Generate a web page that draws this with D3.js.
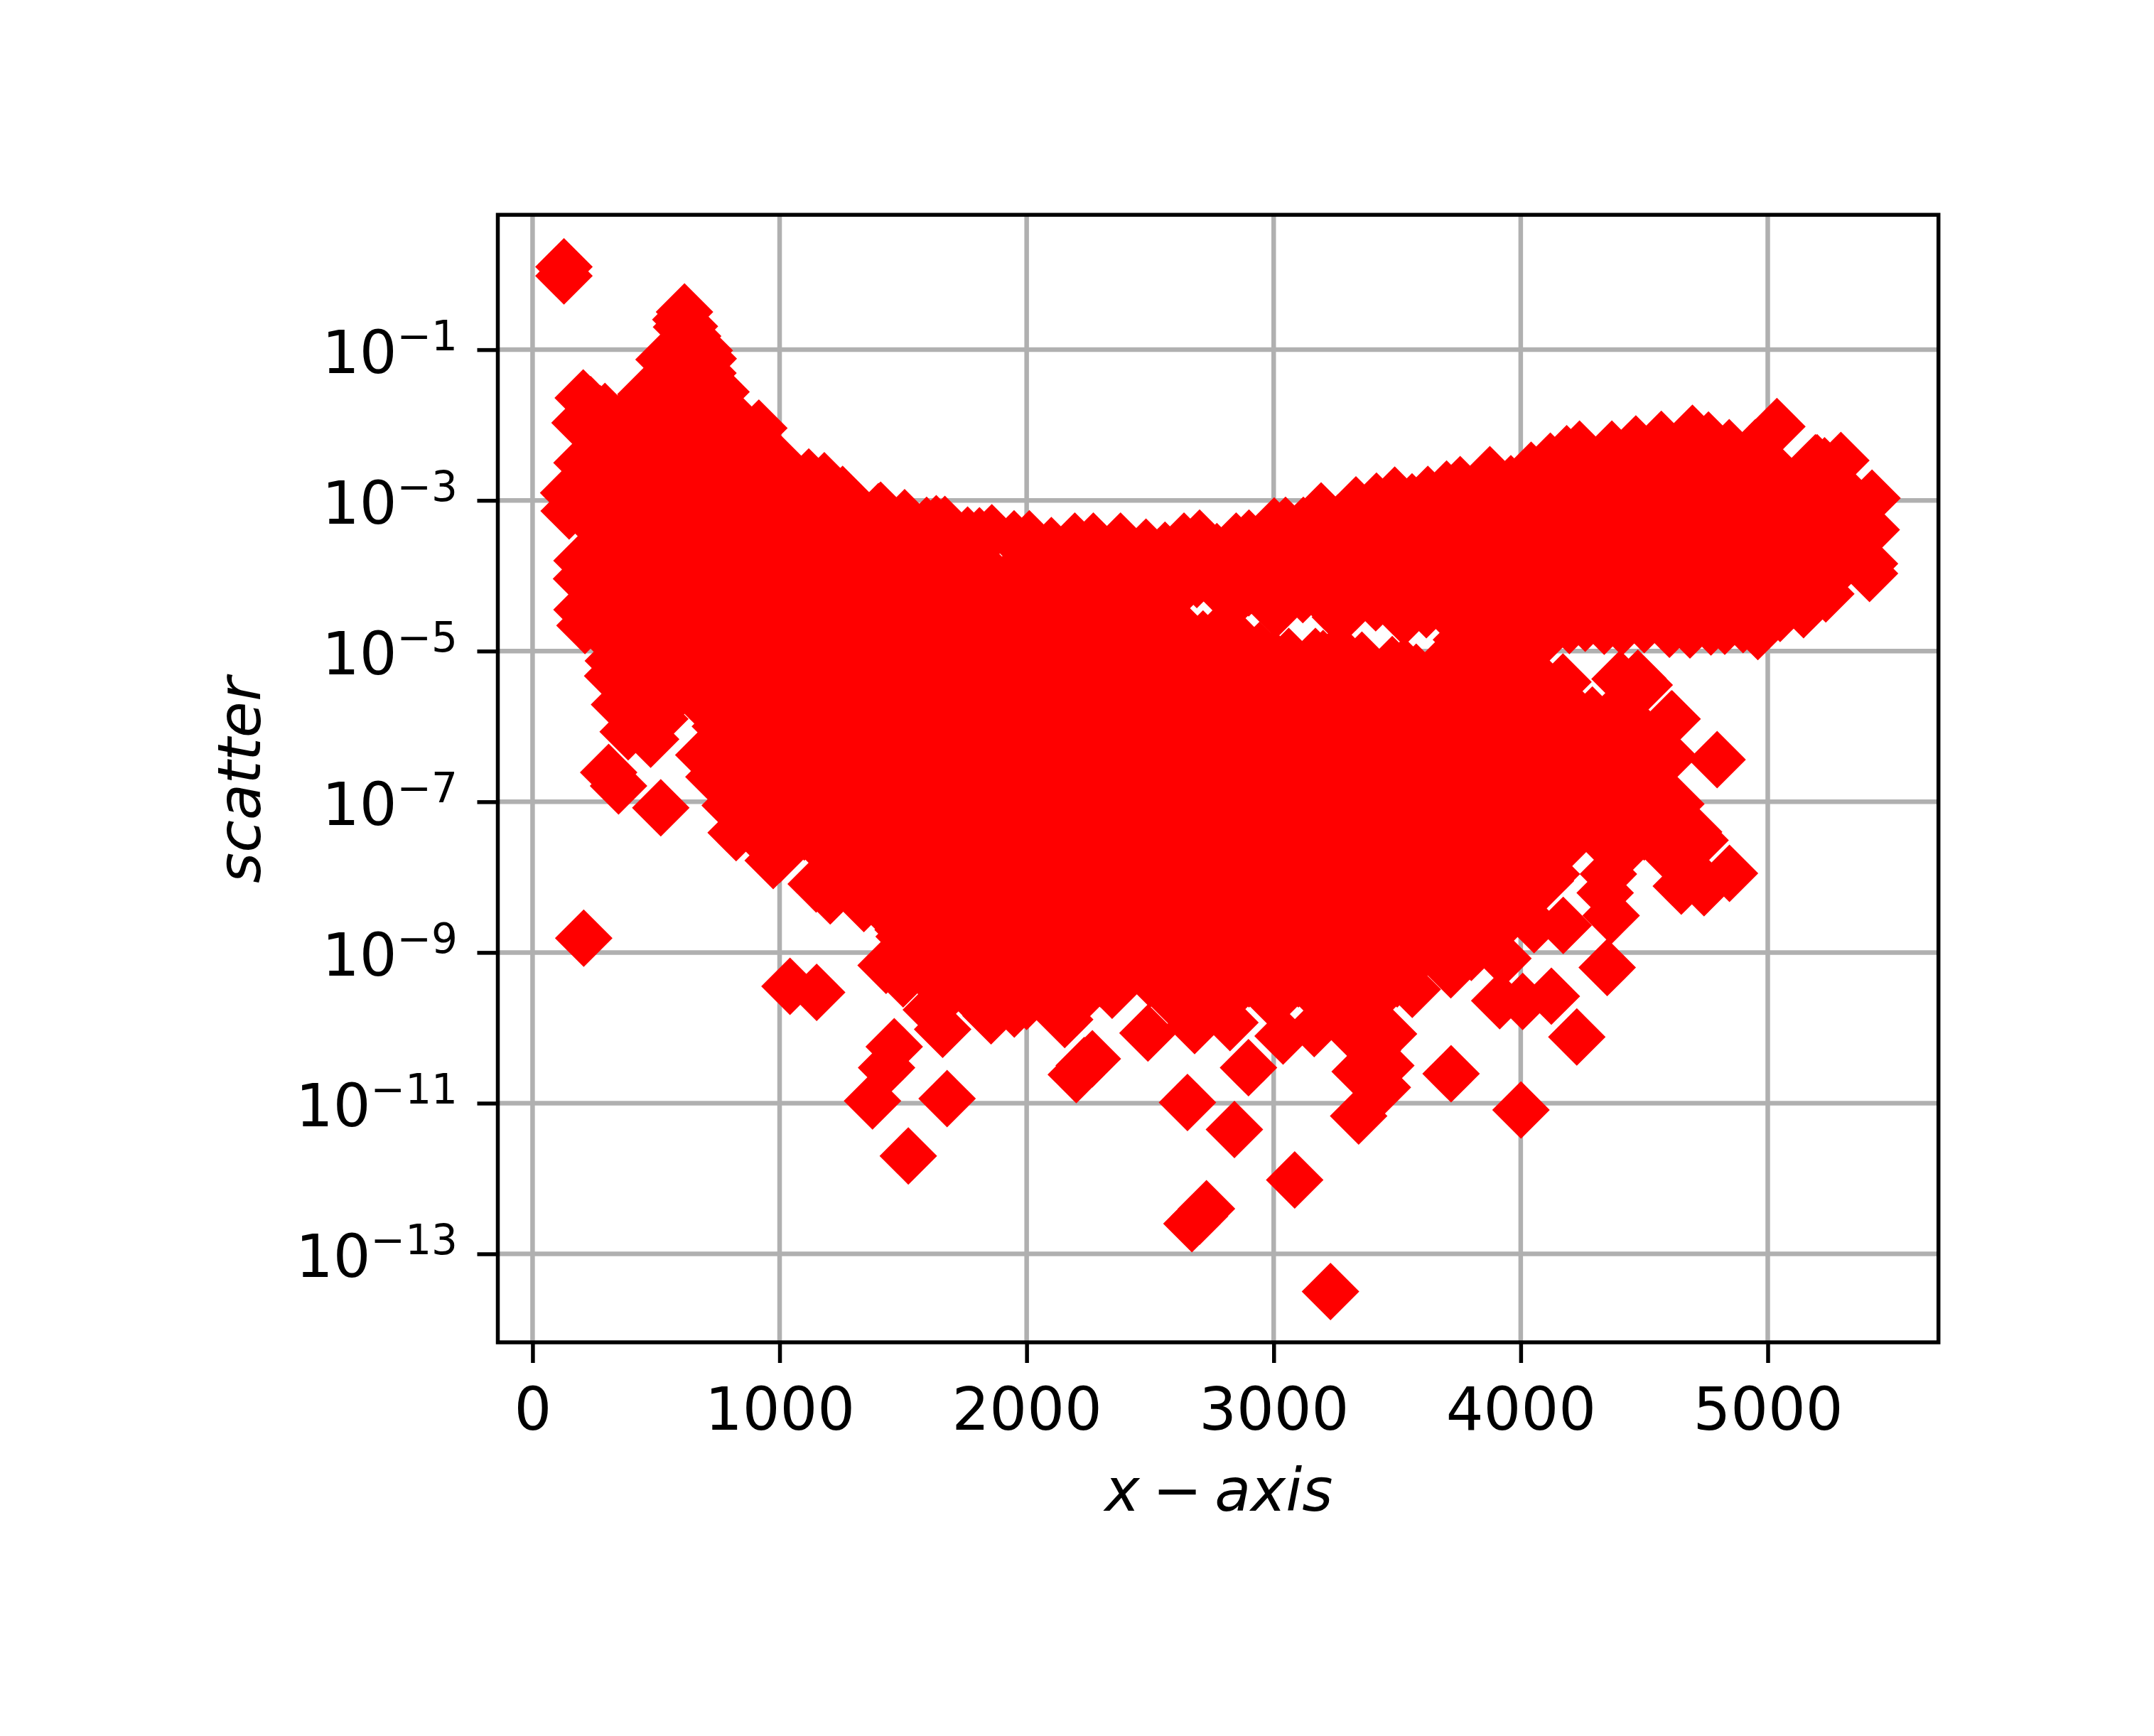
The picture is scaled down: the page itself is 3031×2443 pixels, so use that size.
<!DOCTYPE html>
<html><head><meta charset="utf-8">
<script src="https://cdn.jsdelivr.net/npm/d3@7/dist/d3.min.js"></script>
<style>html,body{margin:0;padding:0;background:#fff}svg{display:block}text{font-family:"DejaVu Sans";fill:#000}</style>
</head><body><svg id="chart" width="3031" height="2443"></svg>
<script>
const xTicks = [0,1000,2000,3000,4000,5000];
const yTickExponents = [-1,-3,-5,-7,-9,-11,-13];
const xLabelText = ["x","−","axis"];
const yLabelText = "scatter";

// each pair: [x value, power of ten of the scatter value]
const outliers = [[127,0.10],[127,-0.02],[207,-8.81],[519,-7.08],[1042,-9.45],[1150,-9.53],[1464,-10.25],[1433,-10.53],[1376,-10.97],[1678,-10.94],[1521,-11.70],[2266,-10.41],[2233,-10.5],[2201,-10.62],[2651,-10.99],[2841,-11.35],[2669,-12.60],[2700,-12.5],[2728,-12.40],[3085,-12.02],[3230,-13.50],[3718,-10.61],[4001,-11.09],[4227,-10.12],[4795,-6.44]];
const upperEdge = [[615,-0.50],[603,-0.70],[532,-1.13],[525,-1.41],[459,-1.59],[445,-1.80],[480,-1.90],[635,-0.69],[648,-0.82],[695,-1.01],[711,-1.12],[710,-1.31],[763,-1.56],[916,-2.04],[902,-2.23],[205,-1.64],[235,-1.73],[274,-1.85],[293,-1.82],[369,-1.91],[192,-1.97],[146,-2.90],[148,-3.14],[198,-4.04],[212,-4.66],[255,-4.38],[327,-5.13],[324,-5.33],[1118,-2.69],[1181,-2.74],[1255,-2.92],[1409,-3.13],[1506,-3.23],[1595,-3.33],[1634,-3.31],[1669,-3.32],[1761,-3.46],[1809,-3.47],[1859,-3.43],[1949,-3.51],[2011,-3.51],[2100,-3.60],[2195,-3.54],[2270,-3.54],[2380,-3.54],[2483,-3.62],[2560,-3.66],[2637,-3.54],[2694,-3.57],[2770,-3.68],[2848,-3.54],[2904,-3.53],[3002,-3.34],[3048,-3.33],[3120,-3.33],[3192,-3.14],[3260,-3.30],[3333,-3.06],[3416,-3.01],[3490,-2.93],[3560,-3.02],[3624,-2.92],[3690,-2.95],[3755,-2.79],[3875,-2.66],[3960,-2.78],[4042,-2.60],[4120,-2.48],[4186,-2.38],[4238,-2.32],[4369,-2.32],[4466,-2.25],[4569,-2.19],[4695,-2.11],[4760,-2.20],[4844,-2.30],[4950,-2.30],[5037,-2.02],[5193,-2.50],[5230,-2.54],[5296,-2.47],[5422,-2.97],[5419,-3.39],[5412,-3.84],[5412,-3.97]];
const bandLowerEdge = [[2600,-4.25],[2630,-4.05],[2689,-4.05],[2850,-4.30],[2899,-4.16],[2960,-4.10],[3118,-4.25],[3330,-4.35],[3413,-4.36],[3550,-4.20],[3618,-4.45],[4107,-4.61],[4197,-4.66],[4261,-4.63],[4338,-4.67],[4410,-4.68],[4500,-4.65],[4602,-4.71],[4685,-4.72],[4770,-4.68],[4826,-4.67],[4900,-4.65],[4960,-4.74],[5050,-4.50],[5145,-4.45],[5235,-4.24]];
const innerCloudTop = [[2545,-4.45],[2660,-4.81],[2714,-4.84],[2795,-4.70],[2805,-4.25],[2881,-4.93],[2943,-4.99],[3010,-4.45],[3061,-5.07],[3169,-5.07],[3265,-5.00],[3270,-4.55],[3357,-5.12],[3420,-5.40],[3480,-5.18],[3528,-4.55],[3528,-5.20],[3577,-5.28],[3657,-5.25],[3710,-4.50],[3760,-4.85],[4171,-5.41],[4290,-5.85],[4402,-5.37],[4474,-5.36],[4613,-5.90]];
const lowerLeftEdge = [[352,-5.71],[387,-6.07],[478,-6.17],[308,-6.61],[348,-6.79],[515,-5.90],[679,-5.66],[760,-6.00],[693,-6.38],[734,-6.67],[824,-7.41],[974,-7.78],[1148,-8.09],[1205,-8.25],[1341,-8.35],[1504,-8.79],[1431,-9.17],[1500,-9.35],[1600,-9.30],[1614,-9.76],[1660,-10.02],[1856,-9.84],[1950,-9.75],[2154,-9.89],[2346,-9.50],[2491,-10.07]];
const lowerRightEdge = [[2680,-9.97],[2823,-9.93],[2898,-10.53],[3038,-10.11],[3164,-10.01],[3350,-10.58],[3344,-11.17],[3440,-10.79],[3454,-10.50],[3465,-10.08],[3561,-9.49],[3717,-9.23],[3915,-9.64],[3928,-9.08],[4008,-9.65],[4124,-9.58],[4350,-9.20],[4054,-8.63],[4172,-8.64],[4124,-7.96],[4355,-7.96],[4342,-8.21],[4366,-8.51],[4650,-8.12],[4742,-8.14],[4845,-7.95],[4726,-7.51],[4628,-7.03],[4610,-5.90]];

// main body of the cloud, read column by column
const bodyX = [200,300,400,500,600,700,800,900,1000,1100,1200,1300,1400,1500,1600,1700,1800,1900,2000,2100,2200,2300,2400,2500,2600,2700,2800,2900,3000,3100,3200,3300,3400,3500,3600,3700,3800,3900,4000,4100,4200,4300,4400,4500,4600,4700,4800,4900,5000,5100,5200,5300,5350];
const bodyExp = [
[-2.5,-3.15,-3.8,-4.45],
[-2.2,-2.85,-3.5,-4.15,-4.8],
[-2.5,-3.15,-3.8,-4.45,-5.1,-5.75],
[-2.2,-2.85,-3.5,-4.15,-4.8,-5.45],
[-0.6,-1.2,-1.85,-2.5,-3.15,-3.8,-4.45,-5.1,-5.5],
[-1.15,-1.55,-2.2,-2.85,-3.5,-4.15,-4.8,-5.45],
[-1.85,-2.5,-3.15,-3.8,-4.45,-5.1,-5.75,-6.4,-7.05],
[-2.2,-2.85,-3.5,-4.15,-4.8,-5.45,-6.1,-6.75,-7.4],
[-2.5,-3.15,-3.8,-4.45,-5.1,-5.75,-6.4,-7.05,-7.7],
[-2.85,-3.5,-4.15,-4.8,-5.45,-6.1,-6.75,-7.4],
[-3.15,-3.8,-4.45,-5.1,-5.75,-6.4,-7.05,-7.7],
[-3.5,-4.15,-4.8,-5.45,-6.1,-6.75,-7.4,-8.05],
[-3.15,-3.8,-4.45,-5.1,-5.75,-6.4,-7.05,-7.7,-8.35],
[-3.5,-4.15,-4.8,-5.45,-6.1,-6.75,-7.4,-8.05,-8.7],
[-3.8,-4.45,-5.1,-5.75,-6.4,-7.05,-7.7,-8.35,-9.0],
[-3.5,-4.15,-4.8,-5.45,-6.1,-6.75,-7.4,-8.05,-8.7,-9.35],
[-3.8,-4.45,-5.1,-5.75,-6.4,-7.05,-7.7,-8.35,-9.0,-9.65],
[-4.15,-4.8,-5.45,-6.1,-6.75,-7.4,-8.05,-8.7,-9.35],
[-3.8,-4.45,-5.1,-5.75,-6.4,-7.05,-7.7,-8.35,-9.0,-9.65],
[-4.15,-4.8,-5.45,-6.1,-6.75,-7.4,-8.05,-8.7,-9.35],
[-3.8,-4.45,-5.1,-5.75,-6.4,-7.05,-7.7,-8.35,-9.0,-9.65],
[-4.15,-4.8,-5.45,-6.1,-6.75,-7.4,-8.05,-8.7,-9.35],
[-3.8,-4.45,-5.1,-5.75,-6.4,-7.05,-7.7,-8.35,-9.0],
[-4.15,-4.8,-5.45,-6.1,-6.75,-7.4,-8.05,-8.7,-9.35],
[-3.8,-5.1,-5.75,-6.4,-7.05,-7.7,-8.35,-9.0,-9.65],
[-3.5,-5.45,-6.1,-6.75,-7.4,-8.05,-8.7,-9.35],
[-3.8,-5.1,-5.75,-6.4,-7.05,-7.7,-8.35,-9.0,-9.65],
[-3.5,-5.45,-6.1,-6.75,-7.4,-8.05,-8.7,-9.35],
[-3.8,-5.1,-5.75,-6.4,-7.05,-7.7,-8.35,-9.0,-9.65],
[-3.5,-4.15,-5.45,-6.1,-6.75,-7.4,-8.05,-8.7,-9.35],
[-3.8,-4.3,-5.1,-5.75,-6.4,-7.05,-7.7,-8.35,-9.0,-9.65],
[-3.5,-4.15,-5.45,-6.1,-6.75,-7.4,-8.05,-8.7,-9.35,-10.0],
[-3.15,-3.8,-5.75,-6.4,-7.05,-7.7,-8.35,-9.0,-9.65,-10.3],
[-3.5,-3.95,-4.4,-5.45,-6.1,-6.75,-7.4,-8.05,-8.7,-9.35],
[-3.15,-3.8,-5.75,-6.4,-7.05,-7.7,-8.35,-9.0],
[-2.85,-3.5,-4.15,-5.45,-6.1,-6.75,-7.4,-8.05,-8.7],
[-3.15,-3.8,-4.45,-5.1,-5.75,-6.4,-7.05,-7.7,-8.35,-9.0],
[-2.85,-3.5,-4.15,-4.8,-5.45,-6.1,-6.75,-7.4,-8.05,-8.7],
[-3.15,-3.8,-4.45,-5.1,-5.75,-6.4,-7.05,-7.7,-8.35],
[-2.85,-3.5,-4.15,-4.8,-5.45,-6.1,-6.75,-7.4,-8.05],
[-2.5,-3.15,-3.8,-4.45,-5.75,-6.4,-7.05,-7.5],
[-2.85,-3.5,-4.15,-6.1,-6.75,-7.4],
[-2.5,-3.15,-3.8,-4.45,-5.75,-6.4,-7.05,-7.7],
[-2.85,-3.5,-4.15,-5.45,-6.1,-6.75,-7.4],
[-2.5,-3.15,-3.8,-4.45,-6.4,-7.05,-7.7],
[-2.2,-2.85,-3.5,-4.15,-7.4,-7.95],
[-2.5,-3.15,-3.8,-4.45],
[-2.5,-2.85,-3.5,-4.15],
[-2.5,-3.15,-3.8,-4.45],
[-2.85,-3.5,-4.15],
[-2.5,-3.15,-3.8],
[-2.85,-3.5,-3.85],
[-3.2,-3.6]];

const bodyPairs = bodyX.flatMap((xv,i) => bodyExp[i].map(e => [xv,e]));
const allPoints = [...bodyPairs,...upperEdge,...bandLowerEdge,...innerCloudTop,...lowerLeftEdge,...lowerRightEdge,...outliers];

const frame = {left:700.5,right:2727.7,top:302.3,bottom:1889};
const xScale = d3.scaleLinear().domain([-140.7,5691]).range([frame.left,frame.right]);
const yScale = d3.scaleLog().domain([Math.pow(10,-14.174),Math.pow(10,0.79)]).range([frame.bottom,frame.top]);

const svg = d3.select("#chart");
const FONT = 83, SUP = 58, LW = 5.5, GRID_W = 6.5, TICK = 29, GRID = "#b0b0b0";

// grid
svg.append("g").selectAll("line").data(xTicks).join("line")
  .attr("x1",d=>xScale(d)).attr("x2",d=>xScale(d)).attr("y1",frame.top).attr("y2",frame.bottom)
  .attr("stroke",GRID).attr("stroke-width",GRID_W);
svg.append("g").selectAll("line").data(yTickExponents).join("line")
  .attr("y1",d=>yScale(Math.pow(10,d))).attr("y2",d=>yScale(Math.pow(10,d))).attr("x1",frame.left).attr("x2",frame.right)
  .attr("stroke",GRID).attr("stroke-width",GRID_W);

// diamonds
const marker = d3.symbol().type(d3.symbolSquare).size(3280)();
svg.append("g").selectAll("path").data(allPoints).join("path")
  .attr("d",marker).attr("fill","#ff0000")
  .attr("transform",d=>`translate(${xScale(d[0])},${yScale(Math.pow(10,d[1]))}) rotate(45)`);

// frame
svg.append("rect").attr("x",frame.left).attr("y",frame.top)
  .attr("width",frame.right-frame.left).attr("height",frame.bottom-frame.top)
  .attr("fill","none").attr("stroke","#000").attr("stroke-width",LW);

// x axis
const xAxis = svg.append("g").attr("transform",`translate(0,${frame.bottom})`)
  .call(d3.axisBottom(xScale).tickValues(xTicks).tickSize(TICK).tickPadding(35).tickFormat(d3.format("d")));
xAxis.select(".domain").remove();
xAxis.selectAll("line").attr("stroke","#000").attr("stroke-width",LW);
xAxis.selectAll("text").attr("font-size",FONT).attr("font-family","DejaVu Sans").attr("fill","#000");

// y axis
const yAxis = svg.append("g").attr("transform",`translate(${frame.left},0)`)
  .call(d3.axisLeft(yScale).tickValues(yTickExponents.map(e=>Math.pow(10,e))).tickSize(TICK).tickFormat(""));
yAxis.select(".domain").remove();
yAxis.selectAll("line").attr("stroke","#000").attr("stroke-width",LW);
yAxis.selectAll(".tick").each(function(d){
  const e = Math.round(Math.log10(d));
  const t = d3.select(this).select("text");
  t.text(null).attr("x",-56.5).attr("y",32).attr("dy",0).attr("text-anchor","end")
    .attr("font-size",FONT).attr("font-family","DejaVu Sans").attr("fill","#000");
  t.append("tspan").text("10");
  t.append("tspan").attr("dy",-32).attr("font-size",SUP).text("\u2212"+Math.abs(e));
});

// axis labels
const xl = svg.append("text").attr("x",1715).attr("y",2126).attr("text-anchor","middle").attr("font-size",FONT);
xl.append("tspan").attr("font-style","italic").text(xLabelText[0]);
xl.append("tspan").attr("dx",18).text(xLabelText[1]);
xl.append("tspan").attr("dx",18).attr("font-style","italic").text(xLabelText[2]);
svg.append("text").attr("transform","translate(366,1098) rotate(-90)").attr("text-anchor","middle")
  .attr("font-size",FONT).attr("font-style","italic").text(yLabelText);
</script></body></html>
